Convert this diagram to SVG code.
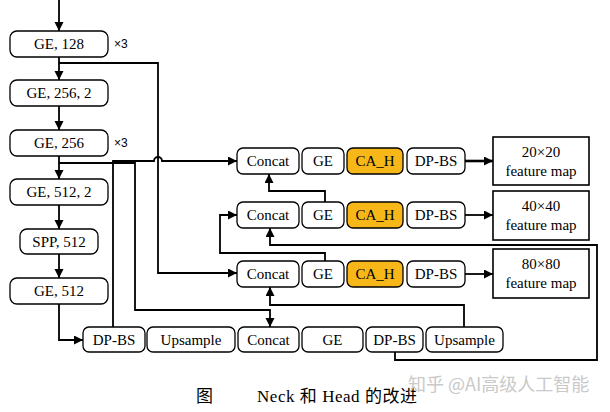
<svg xmlns="http://www.w3.org/2000/svg" width="610" height="412" viewBox="0 0 610 412">
<defs>
<marker id="ah" markerUnits="userSpaceOnUse" markerWidth="10" markerHeight="10" refX="9" refY="4.5" orient="auto" viewBox="0 0 10 10">
<path d="M0,0 L9,4.5 L0,9 z" fill="#000"/>
</marker>
<style>
.n rect{fill:#fff;stroke:#000;stroke-width:1.3}
.n.ca rect{fill:#F7B718}
.n.fm rect{stroke-width:1.6}
.n text{font-family:"Liberation Serif","Times New Roman",serif;font-size:15px;text-anchor:middle;fill:#000}
.c path{fill:none;stroke:#000;stroke-width:1.8}
.c path.a{marker-end:url(#ah)}
.x{font-family:"Liberation Sans",Arial,sans-serif;font-size:12px;fill:#000}
.cap{font-family:"Liberation Serif","Noto Sans CJK SC",serif;font-size:17px;fill:#000}
</style>
</defs>
<rect width="610" height="412" fill="#fff"/>
<g class="c">
<path class="a" d="M59,0 L59,31"/>
<path class="a" d="M59,57 L59,80"/>
<path class="a" d="M59,106 L59,130"/>
<path class="a" d="M59,156 L59,179"/>
<path class="a" d="M59,205 L59,229"/>
<path class="a" d="M59,254 L59,278"/>
<path class="a" d="M59,304 L59,340 L83,340"/>
<path class="a" d="M59,63 L158,63 L158,273 L237,273"/>
<path class="a" d="M113,327 L113,161 L154,161 A4,4 0 0 1 162,161 L237,161"/>
<path class="a" d="M59,163 L135,163 L135,310 L270,310 L270,327"/>
<path class="a" d="M325,261 L325,253 L220,253 L220,215 L237,215"/>
<path class="a" d="M325,202 L325,191 L269,191 L269,174"/>
<path class="a" d="M395,352 L395,360 L597,360 L597,245 L270,245 L270,228"/>
<path class="a" d="M464,327 L464,305 L270,305 L270,287"/>
<path class="a" d="M465,161 L493,161" style="stroke-width:2.6"/>
<path class="a" d="M465,215 L493,215"/>
<path class="a" d="M465,274 L493,274"/>
</g>
<g id="n1" class="n"><rect x="10" y="31" width="98" height="26" rx="7"/><text x="59" y="49">GE, 128</text></g>
<g id="n2" class="n"><rect x="10" y="80" width="98" height="26" rx="7"/><text x="59" y="98">GE, 256, 2</text></g>
<g id="n3" class="n"><rect x="10" y="130" width="98" height="26" rx="7"/><text x="59" y="148">GE, 256</text></g>
<g id="n4" class="n"><rect x="10" y="179" width="98" height="26" rx="7"/><text x="59" y="197">GE, 512, 2</text></g>
<g id="n5" class="n"><rect x="20" y="229" width="78" height="25" rx="7"/><text x="59" y="247">SPP, 512</text></g>
<g id="n6" class="n"><rect x="10" y="278" width="98" height="26" rx="7"/><text x="59" y="296">GE, 512</text></g>
<text class="x" x="114" y="48">×3</text>
<text class="x" x="114" y="147">×3</text>
<g id="b1" class="n"><rect x="83" y="327" width="62" height="25" rx="6"/><text x="114" y="345">DP-BS</text></g>
<g id="b2" class="n"><rect x="147" y="327" width="88" height="25" rx="6"/><text x="191" y="345">Upsample</text></g>
<g id="b3" class="n"><rect x="238" y="327" width="61" height="25" rx="6"/><text x="268.500" y="345">Concat</text></g>
<g id="b4" class="n"><rect x="302" y="327" width="61" height="25" rx="6"/><text x="332.500" y="345">GE</text></g>
<g id="b5" class="n"><rect x="366" y="327" width="57" height="25" rx="6"/><text x="394.500" y="345">DP-BS</text></g>
<g id="b6" class="n"><rect x="426" y="327" width="77" height="25" rx="6"/><text x="464.500" y="345">Upsample</text></g>
<g id="r1c" class="n"><rect x="237" y="148" width="62" height="26" rx="6"/><text x="268" y="166">Concat</text></g>
<g id="r1g" class="n"><rect x="302" y="148" width="42" height="26" rx="6"/><text x="323" y="166">GE</text></g>
<g id="r1a" class="n ca"><rect x="347" y="148" width="56" height="26" rx="6"/><text x="375" y="166">CA_H</text></g>
<g id="r1d" class="n"><rect x="407" y="148" width="58" height="26" rx="6"/><text x="436" y="166">DP-BS</text></g>
<g id="r2c" class="n"><rect x="237" y="202" width="62" height="26" rx="6"/><text x="268" y="220">Concat</text></g>
<g id="r2g" class="n"><rect x="302" y="202" width="42" height="26" rx="6"/><text x="323" y="220">GE</text></g>
<g id="r2a" class="n ca"><rect x="347" y="202" width="56" height="26" rx="6"/><text x="375" y="220">CA_H</text></g>
<g id="r2d" class="n"><rect x="407" y="202" width="58" height="26" rx="6"/><text x="436" y="220">DP-BS</text></g>
<g id="r3c" class="n"><rect x="237" y="261" width="62" height="26" rx="6"/><text x="268" y="279">Concat</text></g>
<g id="r3g" class="n"><rect x="302" y="261" width="42" height="26" rx="6"/><text x="323" y="279">GE</text></g>
<g id="r3a" class="n ca"><rect x="347" y="261" width="56" height="26" rx="6"/><text x="375" y="279">CA_H</text></g>
<g id="r3d" class="n"><rect x="407" y="261" width="58" height="26" rx="6"/><text x="436" y="279">DP-BS</text></g>
<g id="f1" class="n fm"><rect x="493" y="137" width="96" height="48"/><text x="541" y="157">20×20</text><text x="541" y="176">feature map</text></g>
<g id="f2" class="n fm"><rect x="493" y="191" width="96" height="49"/><text x="541" y="211">40×40</text><text x="541" y="230">feature map</text></g>
<g id="f3" class="n fm"><rect x="493" y="249" width="96" height="49"/><text x="541" y="269">80×80</text><text x="541" y="288">feature map</text></g>
<text class="cap" x="196" y="402">图</text>
<text class="cap" x="257" y="402" textLength="160" lengthAdjust="spacing">Neck 和 Head 的改进</text>
<text x="408" y="391" style="font-family:'Noto Sans CJK SC',sans-serif;font-size:18px;fill:#c9c9c9">知乎 @AI高级人工智能</text>
</svg>
